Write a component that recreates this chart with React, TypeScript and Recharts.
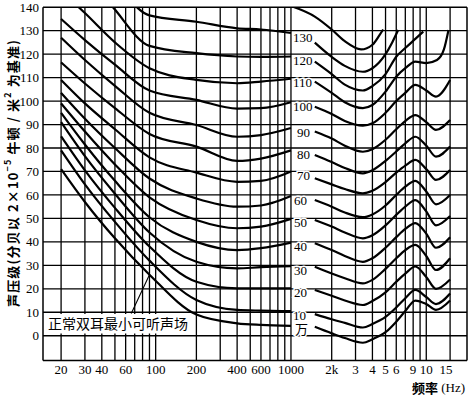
import React from 'react';
import {
  LineChart, Line, XAxis, YAxis, CartesianGrid, ReferenceLine, ReferenceArea
} from 'recharts';

// frequency axis (Hz), log scale
const xTicks = [20, 30, 40, 60, 100, 200, 400, 600, 1000, 2000, 3000, 4000, 5000, 6000, 9000, 10000, 15000];
const xTickText: Record<number, string> = {
  2000: '2k', 3000: '3', 4000: '4', 5000: '5', 6000: '6', 9000: '9', 10000: '10', 15000: '15',
};
const gridFreq = [
  20, 30, 40, 50, 60, 70, 80, 90,
  100, 200, 300, 400, 500, 600, 700, 800, 900,
  1000, 2000, 3000, 4000, 5000, 6000, 7000, 8000, 9000, 10000, 15000,
];
const yTicks = [0, 10, 20, 30, 40, 50, 60, 70, 80, 90, 100, 110, 120, 130, 140];
const gridDb = [0, 10, 20, 30, 40, 50, 60, 70, 80, 90, 100, 110, 120, 130];

// left part of each curve, 20 Hz .. 1000 Hz (dB)
const leftFreq = [20, 30, 50, 90, 200, 400, 600, 1000];
const left130 = [175, 162, 150, 136.5, 133.8, 131, 130.5, 129];
const left120 = [172, 156, 139, 123.5, 120.4, 119, 118.8, 119];
const left110 = [147, 137.5, 125, 114, 109, 107.6, 108.3, 109.5];
const left100 = [135, 126, 115.5, 104.5, 100.5, 96.8, 97, 99.5];
const left90 = [127, 117.5, 106.5, 95, 89.8, 84.8, 85.5, 88.5];
const left80 = [116.5, 107.5, 97, 86, 80.6, 74.5, 75.5, 79];
const left70 = [109, 99, 88, 76, 69.5, 65.6, 66, 70];
const left60 = [103.5, 92.5, 80, 67, 58.5, 55, 55.5, 59.5];
const left50 = [99, 87, 73, 59, 49.3, 45.8, 46.5, 49.8];
const left40 = [95, 81.5, 66, 50.5, 40, 36.5, 37.3, 39.7];
const left30 = [91, 76.5, 60.5, 44, 31.5, 28.7, 29.2, 29.6];
const left20 = [85, 70.5, 54.5, 38, 23, 20.2, 20.2, 20.2];
const left10 = [79, 64.5, 48.5, 32, 15.2, 11, 10.7, 10.5];
const leftMin = [71, 57, 41.5, 26, 9, 5.3, 4.6, 4.2];

// right part of each curve, above 1000 Hz (dB)
const freq140 = [1000, 1500, 2000, 2500, 3300, 4000, 4500, 4800];
const right140 = [140.5, 136, 130.5, 125.5, 122, 124, 128, 130.5];
const freq130 = [1500, 2000, 2500, 3400, 4000, 5000, 5600, 6200];
const right130 = [124.9, 118.8, 115, 112.5, 114, 120, 125, 130.3];
const freq120 = [1500, 2000, 2500, 3400, 4000, 5000, 6000, 7000, 8300, 9500];
const right120 = [116.8, 111.5, 107, 104.5, 106.4, 111.5, 118.9, 122.6, 126.5, 129.6];
const freq110 = [1500, 2000, 2500, 3400, 4000, 5000, 6000, 7000, 8300, 10000, 12000, 13500, 14600];
const right110 = [108.3, 103.5, 99.5, 97, 98.3, 104, 110.4, 114, 116.8, 116.2, 117.5, 122, 130.3];
const rightFreq = [1500, 2000, 2500, 3400, 4000, 5000, 6000, 7000, 8300, 10000, 11800, 15000];
const right100 = [97.6, 94.5, 91.5, 89.5, 90.5, 95, 100, 103.5, 106.9, 104.5, 101.9, 109];
const right90 = [87, 84, 81, 78.4, 79.5, 83.5, 88, 91.5, 94, 91, 87.7, 91.9];
const right80 = [77, 74, 71.5, 69.2, 70.5, 74.5, 78.5, 82, 84.8, 81, 76.3, 80.6];
const right70 = [67.1, 64.5, 62.5, 60.7, 61.8, 65.5, 69.5, 72.5, 74.9, 71, 66.4, 70.6];
const right60 = [57.8, 55, 52.5, 50.5, 51.7, 55.5, 60, 63.5, 66, 61.5, 56, 60];
const right50 = [49.3, 46.5, 44, 41.5, 42.8, 47, 51.5, 55, 57.8, 53, 47, 51];
const right40 = [39.4, 36.5, 34, 31.5, 33, 37.5, 42, 45.5, 48, 43.5, 37.5, 42];
const right30 = [29.4, 26.5, 24.5, 22.3, 23.8, 28.5, 33, 36.5, 38.7, 34, 28, 33];
const right20 = [19.5, 17, 15, 13.1, 14.8, 18.5, 23, 26.5, 29.5, 25, 20, 24];
const right10 = [9.2, 7, 5.5, 3.5, 5, 8, 12, 16, 19.5, 16.5, 13.5, 18];
const rightMin = [3.8, 1, -1, -3, -1.5, 1.5, 6, 10.5, 15, 13.5, 11, 15];

const pts = (fs: number[], vs: number[]) => fs.map((f, i) => ({ f, db: vs[i] }));

const curves = [
  { name: '130', left: left130, rf: freq130, right: right130, dx: 2 },
  { name: '120', left: left120, rf: freq120, right: right120, dx: 2 },
  { name: '110', left: left110, rf: freq110, right: right110, dx: 2 },
  { name: '100', left: left100, rf: rightFreq, right: right100, dx: 2 },
  { name: '90', left: left90, rf: rightFreq, right: right90, dx: 6 },
  { name: '80', left: left80, rf: rightFreq, right: right80, dx: 6 },
  { name: '70', left: left70, rf: rightFreq, right: right70, dx: 6 },
  { name: '60', left: left60, rf: rightFreq, right: right60, dx: 3 },
  { name: '50', left: left50, rf: rightFreq, right: right50, dx: 3 },
  { name: '40', left: left40, rf: rightFreq, right: right40, dx: 3 },
  { name: '30', left: left30, rf: rightFreq, right: right30, dx: 3 },
  { name: '20', left: left20, rf: rightFreq, right: right20, dx: 3 },
  { name: '10', left: left10, rf: rightFreq, right: right10, dx: 2 },
  { name: '万', left: leftMin, rf: rightFreq, right: rightMin, dx: 4 },
];

const serif = "'Liberation Serif', 'Noto Sans CJK SC', serif";
const cjk = "'Noto Sans CJK SC', sans-serif";

// small nudges so crowded labels on the right sit like the printed ones
const tickShift: Record<number, number> = { 9000: -7, 15000: -4 };

const FreqTick = (p: any) => {
  const v = p.payload.value;
  return (
    <text x={p.x + (tickShift[v] ?? 0)} y={p.y} dy="0.71em" textAnchor="middle"
      fontSize={13} fontFamily={serif} fill="#000">
      {xTickText[v] ?? String(v)}
    </text>
  );
};

const endLabel = (text: string, dx: number) => (p: any) => {
  if (p.index !== leftFreq.length - 1) return null;
  return (
    <text
      x={p.x + dx} y={p.y + 4} dominantBaseline="central"
      fontSize={13} fontFamily={serif} fill="#000"
      stroke="#fff" strokeWidth={3} paintOrder="stroke"
    >
      {text}
    </text>
  );
};

export default function App() {
  return (
    <div style={{ position: 'absolute', left: 0, top: 0, width: 474, height: 395, background: '#fff' }}>
      <LineChart width={474} height={395} margin={{ top: 7.2, right: 7, bottom: 9.4, left: 0 }}>
        <CartesianGrid
          stroke="#000" strokeWidth={1.3}
          horizontalValues={gridDb} verticalValues={gridFreq}
        />
        <XAxis
          dataKey="f" type="number" scale="log" domain={[14.7, 20000]} allowDataOverflow
          ticks={xTicks} interval={0} height={25}
          tick={<FreqTick />}
          axisLine={false} tickLine={false} tickSize={0} tickMargin={4}
        />
        <YAxis
          type="number" domain={[-10.6, 140]} allowDataOverflow
          ticks={yTicks} interval={0} width={43}
          tick={{ fill: '#000', fontSize: 13, fontFamily: serif }}
          axisLine={false} tickLine={false} tickSize={0} tickMargin={4}
        />

        {/* frame */}
        <ReferenceLine y={140} stroke="#000" strokeWidth={1.5} />
        <ReferenceLine y={-10.6} stroke="#000" strokeWidth={1.5} />
        <ReferenceLine x={14.7} stroke="#000" strokeWidth={1.5} />
        <ReferenceLine x={20000} stroke="#000" strokeWidth={1.5} />

        <ReferenceArea
          x1={15.2} x2={180} y1={1} y2={9.3}
          fill="#fff" fillOpacity={1} stroke="none"
          label={{ value: '正常双耳最小可听声场', position: 'insideLeft', offset: 3, fill: '#000', fontSize: 14, fontFamily: cjk }}
        />
        <ReferenceLine segment={[{ x: 66, y: 9.5 }, { x: 90, y: 26 }]} stroke="#000" strokeWidth={1.1} />

        {curves.map(c => (
          <Line
            key={'l' + c.name}
            data={pts(leftFreq, c.left)}
            dataKey="db" type="monotone"
            stroke="#000" strokeWidth={2.2} dot={false}
            isAnimationActive={false}
            label={endLabel(c.name, c.dx)}
          />
        ))}
        {curves.map(c => (
          <Line
            key={'r' + c.name}
            data={pts(c.rf, c.right)}
            dataKey="db" type="monotone"
            stroke="#000" strokeWidth={2.2} dot={false}
            isAnimationActive={false}
          />
        ))}
        <Line
          data={pts(freq140, right140)}
          dataKey="db" type="monotone"
          stroke="#000" strokeWidth={2.2} dot={false}
          isAnimationActive={false}
        />
      </LineChart>

      <svg width={474} height={395} style={{ position: 'absolute', left: 0, top: 0, pointerEvents: 'none' }}>
        <text
          transform="translate(12,173.5) rotate(-90)"
          textAnchor="middle" dominantBaseline="central"
          fontSize={13} fontFamily={cjk} fontWeight="bold" fill="#000"
          textLength={267} lengthAdjust="spacing"
        >
          声压级(分贝以 2×10<tspan dy={-5} fontSize={9}>−5</tspan>
          <tspan dy={5}> 牛顿 / 米</tspan><tspan dy={-5} fontSize={9}>2</tspan>
          <tspan dy={5}> 为基准)</tspan>
        </text>
        <text x={412} y={387} dominantBaseline="central" fontSize={13} fill="#000">
          <tspan fontFamily={cjk} fontWeight="bold">频率</tspan>
          <tspan fontFamily={serif}> (Hz)</tspan>
        </text>
      </svg>
    </div>
  );
}
